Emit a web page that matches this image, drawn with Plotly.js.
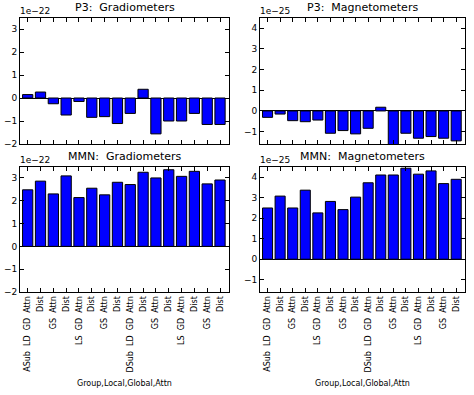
<!DOCTYPE html>
<html>
<head>
<meta charset="utf-8">
<script src="https://cdn.plot.ly/plotly-3.0.1.min.js"></script>
<style>html,body{margin:0;padding:0;background:#fff;}#chart{width:474px;height:395px;}</style>
</head>
<body>
<div id="chart"></div>
<script>
// Data (values in units of 1e-22 for gradiometers, 1e-25 for magnetometers)
const positions = [0,1,2,3,4,5,6,7,8,9,10,11,12,13,14,15];
const tickLabels = ["ASub  LD  GD  Attn","Dist","GS  Attn","Dist","LS  GD  Attn","Dist","GS  Attn","Dist",
                    "DSub  LD  GD  Attn","Dist","GS  Attn","Dist","LS  GD  Attn","Dist","GS  Attn","Dist"];
const p3Grad = [0.15,0.26,-0.25,-0.74,-0.15,-0.84,-0.81,-1.11,-0.67,0.38,-1.56,-1.0,-1.0,-0.67,-1.15,-1.15];
const p3Mag  = [-0.31,-0.15,-0.47,-0.52,-0.44,-1.08,-0.95,-1.11,-0.84,0.18,-1.65,-1.08,-1.32,-1.24,-1.32,-1.45];
const mmnGrad = [2.48,2.86,2.30,3.09,2.14,2.55,2.26,2.81,2.71,3.25,3.0,3.36,3.07,3.29,2.74,2.91];
const mmnMag  = [2.5,3.08,2.5,3.37,2.26,2.82,2.42,3.03,3.73,4.11,4.11,4.44,4.15,4.31,3.69,3.9];
const titles = ["P3:  Gradiometers","P3:  Magnetometers","MMN:  Gradiometers","MMN:  Magnetometers"];
const offsets = ["1e\u221222","1e\u221225","1e\u221222","1e\u221225"];
const xTitle = "Group,Local,Global,Attn";

const FONT = "DejaVu Sans, sans-serif";
const nb = s => s.replace(/ /g, "\u00a0");
const ticktext = tickLabels.map(nb);

function bar(y, xa, ya) {
  return {type:"bar", x: positions, y: y, xaxis: xa, yaxis: ya, width: 0.8,
          marker:{color:"#0000ff", line:{color:"#000", width:1}}, hoverinfo:"none"};
}
const data = [bar(p3Grad,"x","y"), bar(p3Mag,"x2","y2"), bar(mmnGrad,"x3","y3"), bar(mmnMag,"x4","y4")];

const W = 474, H = 395;
const xL = [20/W, 229/W], xR = [260/W, 465/W];
const yT = [(H-144)/H, (H-18)/H], yB = [(H-292)/H, (H-167)/H];

function xax(domain, anchor, showLabels) {
  return {domain: domain, anchor: anchor, range: [-0.6, 15.7], tickmode: "array",
          tickvals: positions, ticktext: showLabels ? ticktext : positions.map(()=>""),
          showticklabels: showLabels, tickangle: -90, ticks: "inside", ticklen: 4, tickcolor: "#000",
          showline: true, linecolor: "#000", linewidth: 1, mirror: "ticks", showgrid: false,
          zeroline: false, tickfont: {family: FONT, size: 8, color: "#000"}, automargin: false, fixedrange: true};
}
function yax(domain, anchor, range) {
  return {domain: domain, anchor: anchor, range: range, dtick: 1, tick0: 0, ticks: "inside", ticklen: 4,
          tickcolor: "#000", showline: true, linecolor: "#000", linewidth: 1, mirror: "ticks", showgrid: false,
          zeroline: true, zerolinecolor: "#000", zerolinewidth: 1,
          tickfont: {family: FONT, size: 9, color: "#000"}, automargin: false, fixedrange: true};
}
const gradRange = [-2, 3.48], magRange = [-1.6, 4.5];

const annotations = [];
const doms = [[xL,yT],[xR,yT],[xL,yB],[xR,yB]];
const axn = ["x","x2","x3","x4"];
doms.forEach((d,i) => {
  annotations.push({text: titles[i], xref: "paper", yref: "paper", x: (d[0][0]+d[0][1])/2, y: d[1][1] + 2/H,
    xanchor: "center", yanchor: "bottom", showarrow: false, font: {family: FONT, size: 11, color: "#000"}});
  annotations.push({text: offsets[i], xref: "paper", yref: "paper", x: d[0][0] - 2/W, y: d[1][1],
    xanchor: "left", yanchor: "bottom", showarrow: false, font: {family: FONT, size: 9, color: "#000"}});
});
[xL, xR].forEach(d => {
  annotations.push({text: xTitle, xref: "paper", yref: "paper", x: (d[0]+d[1])/2, y: (H-383)/H,
    xanchor: "center", yanchor: "middle", showarrow: false, font: {family: FONT, size: 8, color: "#000"}});
});

const layout = {
  width: W, height: H, margin: {l:0, r:0, t:0, b:0}, showlegend: false,
  paper_bgcolor: "#fff", plot_bgcolor: "#fff", bargap: 0,
  font: {family: FONT, color: "#000"},
  xaxis: xax(xL, "y", false), yaxis: yax(yT, "x", gradRange),
  xaxis2: xax(xR, "y2", false), yaxis2: yax(yT, "x2", magRange),
  xaxis3: xax(xL, "y3", true), yaxis3: yax(yB, "x3", gradRange),
  xaxis4: xax(xR, "y4", true), yaxis4: yax(yB, "x4", magRange),
  annotations: annotations
};
Plotly.newPlot("chart", data, layout, {displayModeBar: false, staticPlot: true});
</script>
</body>
</html>
